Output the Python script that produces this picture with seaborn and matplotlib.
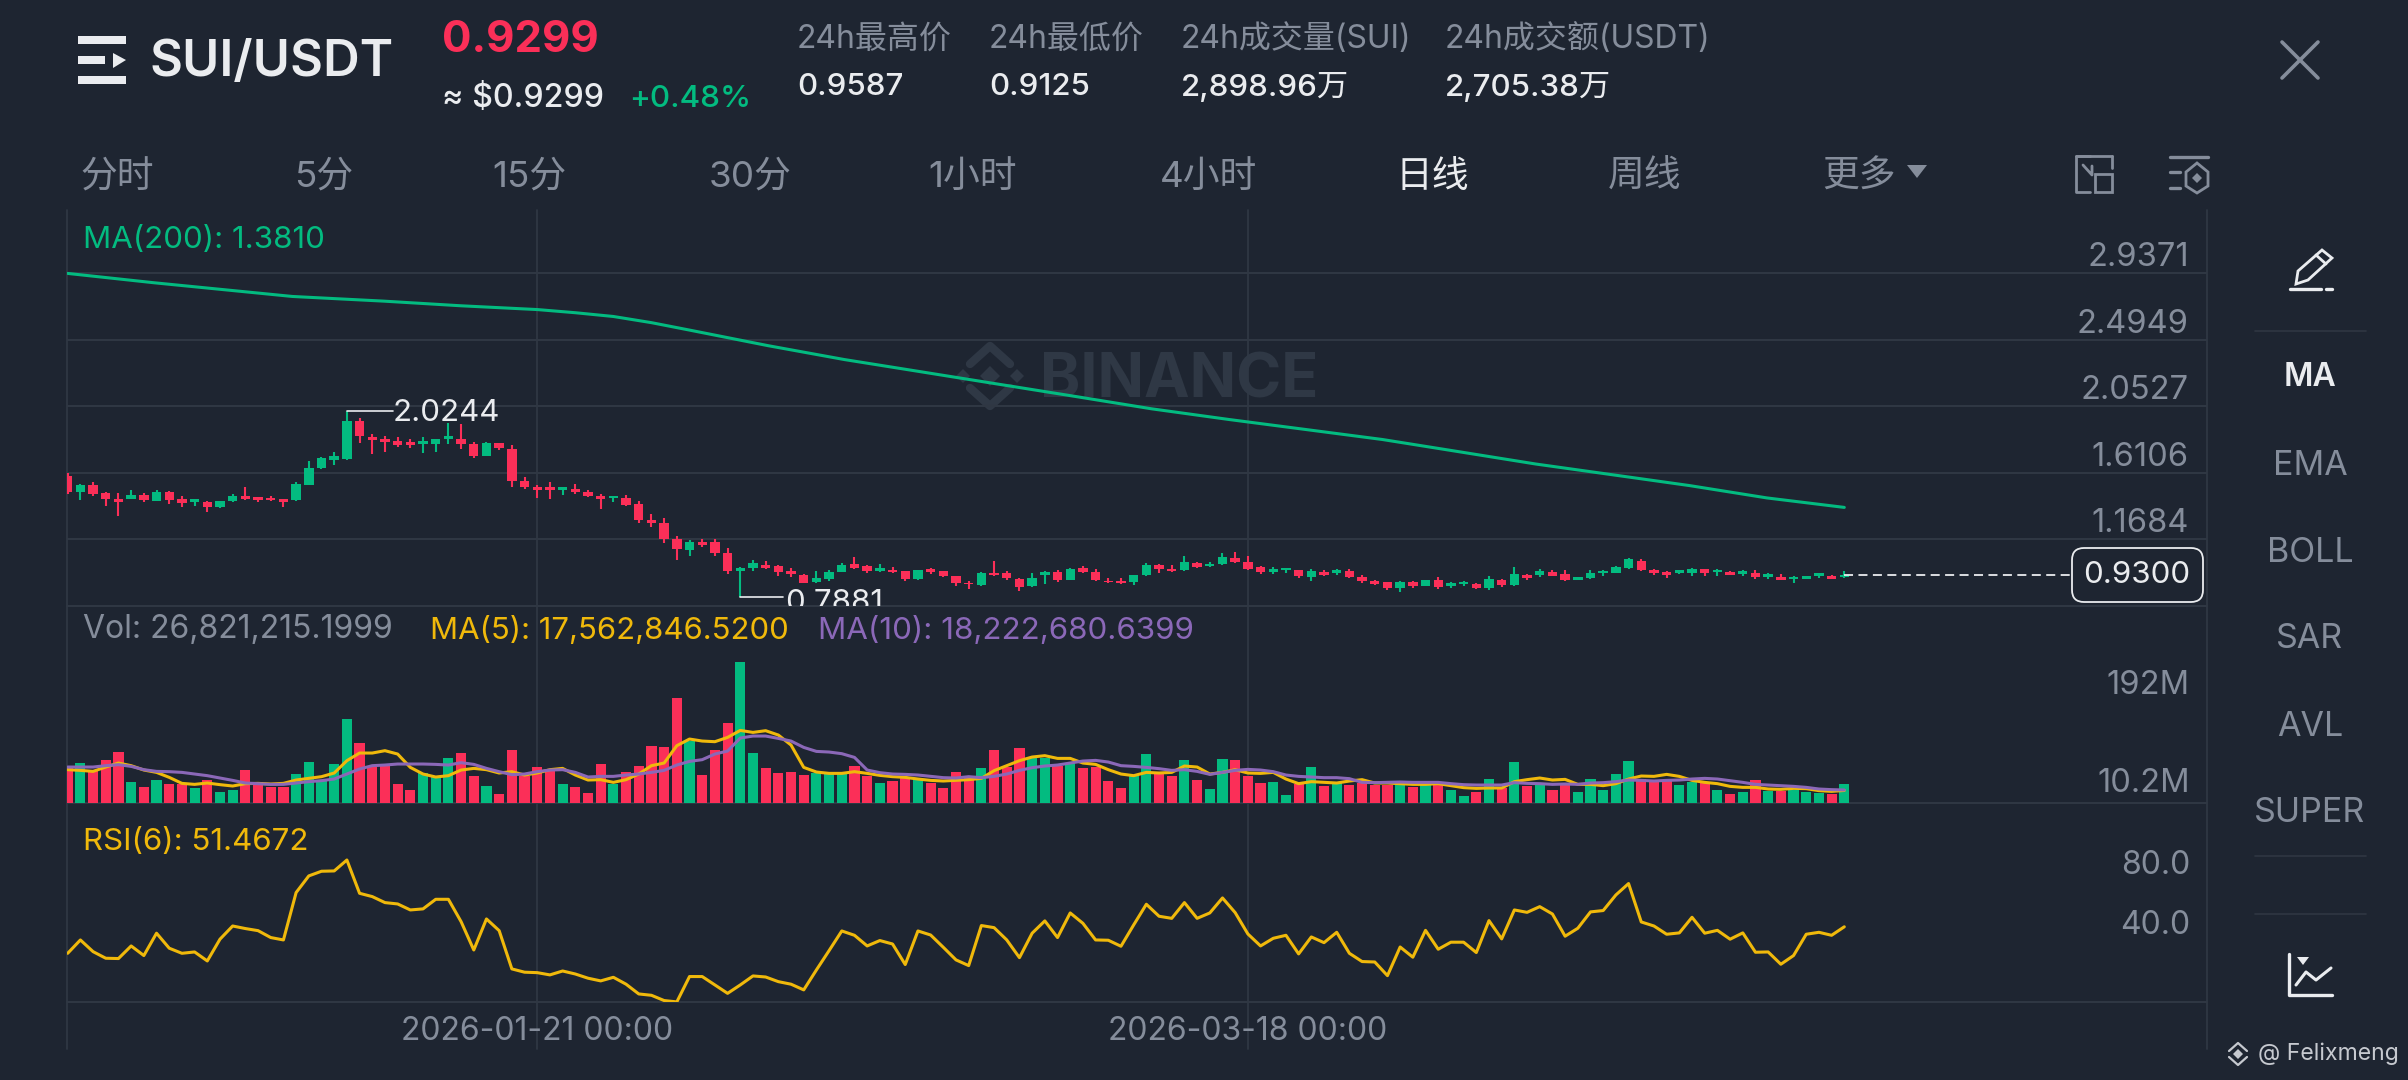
import numpy as np
import pandas as pd
import matplotlib
matplotlib.use('Agg')
import matplotlib.pyplot as plt
from matplotlib.patches import FancyBboxPatch, Polygon, Rectangle
import seaborn as sns

# daily candles
open_ = [1.589, 1.485, 1.529, 1.474, 1.436, 1.436, 1.465, 1.425, 1.485, 1.434,
         1.418, 1.416, 1.385, 1.423, 1.454, 1.447, 1.445, 1.434, 1.427, 1.533,
         1.644, 1.695, 1.703, 1.955, 1.849, 1.838, 1.823, 1.818, 1.801, 1.801,
         1.832, 1.838, 1.803, 1.723, 1.810, 1.772, 1.558, 1.514, 1.514, 1.496,
         1.505, 1.483, 1.456, 1.445, 1.445, 1.403, 1.297, 1.277, 1.171, 1.098,
         1.151, 1.153, 1.078, 0.961, 0.976, 0.998, 0.992, 0.958, 0.932, 0.883,
         0.903, 0.954, 1.005, 0.989, 0.958, 0.965, 0.956, 0.905, 0.969, 0.956,
         0.923, 0.881, 0.868, 0.947, 0.943, 0.908, 0.857, 0.932, 0.954, 0.901,
         0.976, 0.954, 0.892, 0.895, 0.886, 0.932, 0.996, 0.974, 0.967, 1.014,
         0.989, 1.003, 1.047, 1.020, 0.983, 0.952, 0.965, 0.963, 0.917, 0.952,
         0.943, 0.958, 0.921, 0.892, 0.886, 0.844, 0.883, 0.859, 0.899, 0.859,
         0.872, 0.870, 0.844, 0.899, 0.866, 0.932, 0.930, 0.949, 0.941, 0.901,
         0.910, 0.943, 0.947, 0.981, 1.027, 0.965, 0.954, 0.943, 0.945, 0.969,
         0.952, 0.952, 0.941, 0.947, 0.921, 0.921, 0.905, 0.908, 0.927, 0.927,
         0.918]
close = [1.485, 1.529, 1.469, 1.434, 1.418, 1.463, 1.430, 1.485, 1.430, 1.412,
         1.434, 1.381, 1.425, 1.456, 1.434, 1.427, 1.427, 1.416, 1.536, 1.646,
         1.708, 1.721, 1.953, 1.854, 1.827, 1.816, 1.796, 1.794, 1.823, 1.838,
         1.858, 1.801, 1.721, 1.812, 1.774, 1.556, 1.514, 1.496, 1.496, 1.514,
         1.483, 1.456, 1.438, 1.460, 1.399, 1.297, 1.275, 1.169, 1.103, 1.153,
         1.133, 1.080, 0.959, 0.976, 1.014, 0.978, 0.954, 0.936, 0.881, 0.914,
         0.954, 1.000, 0.980, 0.958, 0.980, 0.949, 0.903, 0.965, 0.949, 0.925,
         0.881, 0.870, 0.945, 0.934, 0.914, 0.852, 0.910, 0.952, 0.899, 0.974,
         0.954, 0.899, 0.883, 0.881, 0.932, 1.000, 0.972, 0.956, 1.018, 0.987,
         1.005, 1.051, 1.018, 0.974, 0.949, 0.974, 0.976, 0.928, 0.956, 0.932,
         0.963, 0.917, 0.890, 0.872, 0.844, 0.883, 0.857, 0.899, 0.855, 0.879,
         0.888, 0.848, 0.903, 0.866, 0.936, 0.912, 0.956, 0.928, 0.899, 0.919,
         0.947, 0.961, 0.987, 1.036, 0.965, 0.947, 0.934, 0.963, 0.969, 0.945,
         0.967, 0.934, 0.958, 0.921, 0.939, 0.901, 0.919, 0.925, 0.943, 0.908,
         0.9299]
high = [1.611, 1.536, 1.547, 1.485, 1.474, 1.496, 1.474, 1.496, 1.491, 1.456,
        1.438, 1.423, 1.425, 1.467, 1.514, 1.451, 1.456, 1.438, 1.547, 1.690,
        1.717, 1.750, 2.0244, 1.978, 1.871, 1.856, 1.849, 1.836, 1.849, 1.838,
        1.942, 1.938, 1.814, 1.818, 1.810, 1.796, 1.584, 1.533, 1.547, 1.514,
        1.536, 1.496, 1.469, 1.460, 1.463, 1.423, 1.339, 1.310, 1.191, 1.164,
        1.169, 1.169, 1.109, 0.987, 1.031, 1.022, 1.000, 0.978, 0.936, 0.958,
        0.965, 1.014, 1.054, 0.996, 1.005, 0.987, 0.961, 0.965, 0.978, 0.961,
        0.928, 0.892, 0.949, 1.022, 0.961, 0.912, 0.947, 0.958, 0.965, 0.978,
        0.994, 0.974, 0.912, 0.910, 0.932, 1.012, 1.005, 0.998, 1.058, 1.018,
        1.018, 1.076, 1.083, 1.058, 0.992, 0.987, 0.980, 0.963, 0.972, 0.967,
        0.974, 0.974, 0.932, 0.899, 0.886, 0.892, 0.890, 0.899, 0.917, 0.888,
        0.895, 0.881, 0.923, 0.903, 0.983, 0.936, 0.969, 0.963, 0.963, 0.921,
        0.963, 0.963, 0.994, 1.045, 1.036, 0.969, 0.958, 0.963, 0.976, 0.969,
        0.969, 0.956, 0.963, 0.963, 0.943, 0.936, 0.923, 0.925, 0.947, 0.934,
        0.958]
low = [1.467, 1.430, 1.458, 1.390, 1.326, 1.436, 1.414, 1.425, 1.403, 1.385,
       1.390, 1.352, 1.374, 1.418, 1.430, 1.416, 1.423, 1.385, 1.425, 1.529,
       1.635, 1.662, 1.695, 1.812, 1.739, 1.750, 1.783, 1.776, 1.745, 1.750,
       1.805, 1.768, 1.708, 1.721, 1.759, 1.518, 1.500, 1.445, 1.438, 1.463,
       1.469, 1.451, 1.368, 1.418, 1.392, 1.275, 1.253, 1.142, 1.032, 1.060,
       1.116, 1.060, 0.939, 0.7881, 0.961, 0.972, 0.928, 0.917, 0.877, 0.877,
       0.892, 0.952, 0.969, 0.947, 0.949, 0.943, 0.894, 0.896, 0.938, 0.917,
       0.859, 0.841, 0.857, 0.928, 0.899, 0.828, 0.852, 0.870, 0.886, 0.897,
       0.943, 0.895, 0.879, 0.875, 0.868, 0.928, 0.943, 0.952, 0.961, 0.978,
       0.985, 0.998, 1.009, 0.965, 0.938, 0.938, 0.947, 0.914, 0.890, 0.928,
       0.932, 0.910, 0.881, 0.866, 0.835, 0.821, 0.848, 0.857, 0.841, 0.848,
       0.861, 0.839, 0.835, 0.855, 0.861, 0.899, 0.919, 0.925, 0.895, 0.897,
       0.905, 0.925, 0.943, 0.972, 0.958, 0.932, 0.914, 0.938, 0.925, 0.925,
       0.923, 0.930, 0.928, 0.908, 0.908, 0.897, 0.881, 0.903, 0.912, 0.903,
       0.910]

# volume and its moving averages, in millions
volume = [49.9, 55.5, 45.3, 60.2, 70.9, 29.4, 22.4, 32.2, 26.6, 26.6,
          21.5, 31.7, 15.9, 18.2, 45.7, 28.9, 22.4, 22.9, 40.6, 57.9,
          31.3, 54.6, 117.6, 84.0, 49.9, 52.3, 26.6, 18.7, 42.0, 35.9,
          63.0, 69.5, 38.3, 24.3, 12.1, 74.2, 38.3, 49.9, 45.3, 26.6,
          21.9, 14.0, 55.1, 26.6, 42.9, 51.3, 80.3, 78.4, 147.0, 87.3,
          39.2, 74.2, 112.0, 197.9, 69.5, 49.5, 42.5, 43.4, 39.7, 42.0,
          40.6, 40.6, 51.8, 37.3, 28.5, 30.3, 34.5, 33.6, 28.5, 21.0,
          43.4, 38.3, 49.0, 74.7, 49.9, 77.5, 62.5, 62.5, 52.3, 56.0,
          49.5, 50.4, 30.8, 20.5, 39.2, 68.6, 40.6, 37.8, 60.7, 32.7,
          19.1, 61.6, 60.7, 37.8, 28.5, 29.4, 10.7, 26.6, 50.4, 23.8,
          28.0, 25.7, 28.0, 25.2, 25.7, 26.6, 22.9, 25.2, 28.0, 18.7,
          10.3, 15.4, 34.1, 20.5, 57.4, 24.3, 26.6, 18.7, 25.7, 15.4,
          33.6, 18.7, 40.1, 58.8, 33.6, 29.9, 31.3, 25.2, 28.9, 28.0,
          18.7, 12.6, 15.4, 32.7, 17.3, 17.3, 18.7, 15.9, 13.5, 12.6,
          26.82]
vol_ma5 = [46.7, 45.7, 44.3, 50.4, 56.0, 52.3, 46.2, 42.9, 35.9, 27.5,
           26.1, 28.0, 25.7, 23.8, 27.1, 27.5, 26.6, 27.5, 32.2, 34.5,
           36.9, 42.0, 59.3, 70.0, 70.0, 73.3, 68.6, 49.9, 40.6, 36.4,
           38.3, 46.2, 48.5, 46.7, 42.0, 43.9, 39.2, 42.0, 46.7, 48.5,
           39.2, 32.2, 32.7, 28.9, 32.7, 40.6, 52.3, 56.0, 80.3, 89.6,
           86.8, 85.9, 91.9, 101.7, 98.9, 101.3, 95.2, 81.2, 49.9, 43.4,
           41.5, 41.5, 43.9, 41.5, 38.7, 36.9, 35.9, 33.6, 31.7, 30.8,
           31.7, 32.7, 34.5, 45.3, 52.3, 59.3, 64.4, 66.3, 62.5, 62.5,
           56.0, 54.1, 46.7, 40.6, 38.3, 42.9, 42.0, 42.9, 51.8, 50.4,
           40.6, 42.9, 46.7, 42.0, 41.5, 42.9, 33.6, 27.1, 29.9, 28.9,
           28.0, 30.8, 32.7, 28.0, 28.0, 27.1, 26.1, 26.1, 27.1, 24.3,
           21.5, 20.5, 21.0, 21.0, 29.9, 32.7, 35.0, 32.2, 33.1, 26.1,
           26.1, 24.3, 27.1, 33.6, 37.8, 37.3, 40.1, 37.3, 31.7, 28.9,
           27.1, 23.3, 21.9, 21.9, 19.6, 19.1, 20.5, 20.1, 17.3, 16.3,
           17.56]
vol_ma10 = [50.4, 50.4, 50.4, 52.3, 53.7, 51.3, 46.7, 44.3, 43.9, 42.9,
            40.6, 38.3, 35.0, 31.7, 28.0, 27.1, 26.1, 26.1, 28.0, 29.9,
            31.3, 33.6, 40.6, 47.6, 52.3, 53.2, 54.6, 54.6, 54.6, 54.1,
            53.2, 56.5, 54.1, 48.5, 43.9, 39.7, 40.6, 43.9, 46.2, 46.7,
            42.9, 36.4, 37.3, 37.3, 39.2, 40.6, 42.9, 45.7, 53.2, 58.3,
            60.7, 68.6, 72.8, 91.0, 93.8, 93.8, 90.5, 86.8, 77.9, 72.3,
            71.4, 69.1, 63.9, 46.2, 42.5, 40.6, 40.1, 39.2, 37.3, 35.5,
            35.0, 36.9, 35.5, 37.3, 40.6, 45.7, 49.5, 51.8, 53.2, 56.0,
            58.8, 59.7, 57.4, 52.3, 51.3, 49.9, 48.1, 45.7, 46.7, 44.3,
            40.1, 42.9, 45.7, 47.1, 46.2, 43.9, 39.2, 37.3, 36.4, 35.5,
            35.5, 34.1, 28.9, 28.5, 28.9, 29.4, 28.9, 28.9, 28.9, 27.1,
            25.7, 25.2, 25.2, 25.2, 28.5, 27.5, 27.1, 26.1, 26.6, 26.1,
            28.0, 28.5, 29.9, 32.2, 31.7, 30.8, 31.7, 32.2, 33.6, 34.5,
            33.6, 31.3, 28.9, 26.1, 25.2, 24.3, 23.3, 21.9, 19.6, 18.7,
            18.22]

rsi6 = [33.8, 42.7, 34.9, 30.5, 30.3, 38.7, 32.3, 47.2, 37.2, 33.8,
        34.7, 28.7, 43.2, 52.0, 50.3, 48.9, 44.3, 42.7, 74.3, 85.4,
        88.5, 88.7, 96.0, 73.8, 71.6, 67.6, 66.7, 62.7, 63.4, 69.8,
        69.8, 54.9, 36.0, 56.7, 48.9, 23.4, 21.2, 20.9, 19.4, 22.0,
        20.0, 17.2, 15.4, 17.8, 13.2, 6.7, 5.8, 2.3, 1.4, 18.3,
        18.3, 12.7, 7.1, 12.7, 18.7, 18.0, 14.9, 13.2, 9.4, 22.7,
        35.6, 48.7, 45.8, 38.7, 42.3, 40.0, 26.3, 48.7, 46.0, 37.8,
        29.4, 25.6, 52.3, 50.9, 42.7, 30.9, 47.2, 55.4, 44.3, 60.7,
        53.8, 42.7, 42.5, 38.5, 52.7, 66.5, 58.5, 57.1, 67.6, 57.1,
        60.7, 70.7, 60.9, 46.7, 38.7, 43.8, 45.8, 33.4, 44.7, 40.9,
        47.8, 33.8, 28.3, 28.0, 18.9, 38.0, 31.2, 49.1, 36.5, 41.2,
        41.2, 34.3, 55.6, 43.4, 62.7, 61.1, 64.9, 60.0, 45.2, 50.5,
        61.4, 62.3, 72.7, 80.3, 54.7, 52.0, 46.5, 47.4, 57.8, 47.2,
        49.1, 43.2, 47.4, 34.5, 34.7, 26.5, 32.3, 46.5, 47.8, 45.8,
        51.47]

# MA(200) is a smooth curve, so it was only read every few candles
ma200_idx = [0, 6.8, 17.7, 24.9, 31, 37, 40, 43, 46, 49.1, 55.2, 61.2, 67.3, 73.3,
             79.4, 85.4, 91.5, 97.6, 103.6, 109.7, 115.7, 121.8, 127.8, 133.9, 140]
ma200 = [2.935, 2.873, 2.782, 2.751, 2.720, 2.695, 2.674, 2.649, 2.608, 2.557, 2.455, 2.363,
         2.281, 2.200, 2.118, 2.036, 1.965, 1.898, 1.832, 1.750, 1.669, 1.597,
         1.526, 1.444, 1.3810]

price_ticks = [2.9371, 2.4949, 2.0527, 1.6106, 1.1684, 0.7262]
vol_ticks = [192, 10.2]
vol_tick_labels = ['192M', '10.2M']
rsi_ticks = [80, 40]
date_idx = [37, 93]
date_labels = ['2026-01-21 00:00', '2026-03-18 00:00']
tabs = ['分时', '5分', '15分', '30分', '1小时', '4小时', '日线', '周线', '更多']
stat_names = ['24h最高价', '24h最低价', '24h成交量(SUI)', '24h成交额(USDT)']
stat_values = ['0.9587', '0.9125', '2,898.96万', '2,705.38万']
side_items = ['MA', 'EMA', 'BOLL', 'SAR', 'AVL', 'SUPER']

BG = '#1e2531'
GRID = '#2f3743'
GREEN = '#03bb80'
RED = '#fb2f58'
GRAY = '#858d9b'
WHITE = '#eaecef'
YELLOW = '#f0b90b'
PURPLE = '#8b68b8'

W, H = 2408, 1080
X0, DX = 67.7, 12.69   # pixel of first candle, pixels per candle
LEFT, RIGHT = 67, 2207

sns.set_theme(style='dark', rc={'figure.facecolor': BG, 'axes.facecolor': 'none'})
plt.rcParams['font.family'] = ['Inter', 'Noto Sans CJK SC', 'DejaVu Sans']

fig = plt.figure(figsize=(W / 100, H / 100), dpi=100)

# full-size pixel axes for all the app chrome
ui = fig.add_axes([0, 0, 1, 1], zorder=0)
ui.set_xlim(0, W)
ui.set_ylim(H, 0)
ui.axis('off')


def panel(top, bottom, ylim, ticks):
    ax = fig.add_axes([LEFT / W, 1 - bottom / H, (RIGHT - LEFT) / W, (bottom - top) / H], zorder=1)
    ax.set_xlim((LEFT - X0) / DX, (RIGHT - X0) / DX)
    ax.set_ylim(*ylim)
    ax.set_yticks(ticks)
    ax.set_xticks([])
    ax.tick_params(length=0, labelleft=False, labelbottom=False)
    for s in ax.spines.values():
        s.set_visible(False)
    return ax


def txt(x, y, s, size=20, color=GRAY, ha='left', **kw):
    ui.text(x, y + 2, s, fontsize=size, color=color, ha=ha, va='center', **kw)


idx = np.arange(len(close))
is_up = np.array(close) >= np.array(open_)
colors = np.where(is_up, GREEN, RED)

# price panel
ax1 = panel(210, 606, (0.7262, 3.3562), price_ticks[:-1])
ax1.grid(axis='y', color=GRID, lw=1.5)
ax1.vlines(idx, low, high, color=colors, lw=1.5)
ax1.bar(idx, np.abs(np.array(close) - np.array(open_)), bottom=np.minimum(open_, close),
        width=0.74, color=colors, linewidth=0)
sns.lineplot(x=ma200_idx, y=ma200, color=GREEN, linewidth=2.2, ax=ax1)
ax1.set_xlim((LEFT - X0) / DX, (RIGHT - X0) / DX)
ax1.set_ylim(0.7262, 3.3562)

for v in price_ticks[:-1]:
    ax1.annotate(f'{v:.4f}', (0.9915, v), xycoords=ax1.get_yaxis_transform(), xytext=(0, 0),
                 textcoords='offset points', ha='right', va='bottom', fontsize=23.5, color=GRAY)

# high / low markers
ax1.plot([22, 22, 25.6], [high[22], 2.0244, 2.0244], color=WHITE, lw=1.2)
ax1.text(25.6, 2.007, '2.0244', color=WHITE, fontsize=22.5, va='center')
ax1.plot([53, 53, 56.4], [low[53], 0.7881, 0.7881], color=WHITE, lw=1.2)
ax1.text(56.5, 0.748, '0.7881', color=WHITE, fontsize=22.5, va='center', clip_on=True)

# last price line
ax1.plot([140, 158], [0.93, 0.93], color=WHITE, lw=1.3, ls=(0, (5, 3)))

# volume panel
ax2 = panel(606, 803, (0, 276), [])
vol_df = pd.DataFrame({'idx': idx, 'volume': volume, 'side': np.where(is_up, 'up', 'down')})
sns.barplot(data=vol_df, x='idx', y='volume', hue='side', palette={'up': GREEN, 'down': RED},
            native_scale=True, dodge=False, width=0.8, saturation=1, legend=False,
            linewidth=0, ax=ax2)
sns.lineplot(x=idx, y=vol_ma5, color=YELLOW, linewidth=2.2, ax=ax2)
sns.lineplot(x=idx, y=vol_ma10, color=PURPLE, linewidth=2.2, ax=ax2)
ax2.set_xlim((LEFT - X0) / DX, (RIGHT - X0) / DX)
ax2.set_ylim(0, 276)
ax2.set_xlabel('')
ax2.set_ylabel('')
ax2.set_xticks([])

# RSI panel
ax3 = panel(803, 1002, (1.33, 134), [])
sns.lineplot(x=idx, y=rsi6, color=YELLOW, linewidth=2.2, ax=ax3)
ax3.set_xlim((LEFT - X0) / DX, (RIGHT - X0) / DX)
ax3.set_ylim(1.33, 134)
ax3.set_xlabel('')
ax3.set_ylabel('')
ax3.set_xticks([])

# frame lines
for x in [LEFT, RIGHT] + [X0 + DX * i for i in date_idx]:
    ui.plot([x, x], [210, 1049], color=GRID, lw=1.3)
for y in [606, 803, 1002]:
    ui.plot([LEFT, RIGHT], [y, y], color=GRID, lw=1.5)

# tick texts for the lower panels
for y, s in zip([683, 781], vol_tick_labels):
    txt(2190, y, s, size=23.5, ha='right')
for y, v in zip([863, 924], rsi_ticks):
    txt(2190, y, f'{v:.1f}', size=23, ha='right')
for i, s in zip(date_idx, date_labels):
    txt(X0 + DX * i, 1029, s, size=23, ha='center')

# indicator legends
txt(83, 238, 'MA(200): 1.3810', size=22.5, color=GREEN)
txt(83, 628, 'Vol: 26,821,215.1999', size=23, color=GRAY)
txt(430, 628, 'MA(5): 17,562,846.5200', size=22.4, color=YELLOW)
txt(818, 628, 'MA(10): 18,222,680.6399', size=22.6, color=PURPLE)
txt(83, 840, 'RSI(6): 51.4672', size=22.5, color=YELLOW)

# last price box
ui.add_patch(FancyBboxPatch((2078, 554), 119, 42, boxstyle='round,pad=6,rounding_size=12',
                            fc=BG, ec=WHITE, lw=1.3))
txt(2190, 573, '0.9300', size=22.5, color=WHITE, ha='right')

# header
for y in [36, 56, 76]:
    ui.add_patch(Rectangle((78, y), 48 if y != 56 else 27, 8, color=WHITE, lw=0))
ui.add_patch(Polygon([(113, 53), (126, 60), (113, 68)], color=WHITE, lw=0))
txt(150, 60, 'SUI/USDT', size=36.5, color=WHITE, fontweight='semibold')
txt(442, 38, '0.9299', size=31.5, color=RED, fontweight='bold')
txt(442, 97, '≈ $0.9299', size=23.2, color=WHITE, fontweight='medium')
txt(629, 97, '+0.48%', size=22.6, color=GREEN, fontweight='medium')
for x, name, val in zip([797, 989, 1181, 1445], stat_names, stat_values):
    txt(x, 37, name, size=23)
    txt(x, 85, val, size=22.5, color=WHITE, fontweight='medium')
for x, s in zip([80, 294, 492, 709, 928, 1160, 1395, 1608, 1822], tabs):
    txt(x, 175, s, size=26.5, color=WHITE if s == '日线' else GRAY)
ui.add_patch(Polygon([(1907, 165), (1927, 165), (1917, 178)], color=GRAY, lw=0))

# close button
ui.plot([2282, 2318], [42, 78], color=GRAY, lw=2.6)
ui.plot([2282, 2318], [78, 42], color=GRAY, lw=2.6)

# toolbar icons
ui.plot([2090, 2076, 2076, 2090], [156, 156, 192, 192], color=GRAY, lw=2)
ui.plot([2076, 2112], [156, 156], color=GRAY, lw=2)
ui.plot([2112, 2112], [156, 168], color=GRAY, lw=2)
ui.add_patch(Rectangle((2095, 174), 17, 18, fc='none', ec=GRAY, lw=2))
ui.plot([2083, 2092, 2092], [165, 175, 166], color=GRAY, lw=2)
ui.plot([2170, 2208], [157, 157], color=GRAY, lw=2.4)
ui.plot([2170, 2180], [172, 172], color=GRAY, lw=2.4)
ui.plot([2170, 2180], [188, 188], color=GRAY, lw=2.4)
ui.add_patch(Polygon([(2197, 163), (2208, 172), (2208, 186), (2197, 193), (2186, 186), (2186, 172)],
                     fc='none', ec=GRAY, lw=2))
ui.add_patch(Polygon([(2197, 173), (2202, 178), (2197, 183), (2192, 178)], color=GRAY, lw=0))

# side panel
ui.add_patch(Polygon([(2296, 284), (2298, 271), (2322, 250), (2332, 258), (2308, 280)],
                     fc='none', ec=WHITE, lw=2))
ui.plot([2316, 2326], [255, 264], color=WHITE, lw=2)
ui.plot([2290, 2321], [289, 289], color=WHITE, lw=2.4)
ui.plot([2326, 2332], [289, 289], color=WHITE, lw=2.4)
for y in [331, 856, 914]:
    ui.plot([2255, 2366], [y, y], color=GRID, lw=1.2)
for y, s in zip([376, 464, 551, 637, 725, 811], side_items):
    txt(2310, y, s, size=23 if s == 'MA' else 24.5, color=WHITE if s == 'MA' else GRAY, ha='center',
        fontweight='semibold' if s == 'MA' else 'normal')
ui.plot([2289, 2289, 2332], [954, 995, 995], color=WHITE, lw=2.4)
ui.plot([2296, 2306, 2316, 2331], [985, 972, 980, 968], color=WHITE, lw=2.2)
ui.add_patch(Polygon([(2297, 957), (2309, 957), (2303, 965)], color=WHITE, lw=0))

# watermark
wm = '#2f3845'
cx, cy = 990, 376
ui.add_patch(Polygon([(cx, cy - 10), (cx + 10, cy), (cx, cy + 10), (cx - 10, cy)], color=wm, lw=0))
ui.plot([cx - 20, cx, cx + 20], [cy - 12, cy - 30, cy - 12], color=wm, lw=6)
ui.plot([cx - 20, cx, cx + 20], [cy + 12, cy + 30, cy + 12], color=wm, lw=6)
for dx in [-27, 27]:
    ui.add_patch(Polygon([(cx + dx, cy - 7), (cx + dx + 7, cy), (cx + dx, cy + 7), (cx + dx - 7, cy)],
                         color=wm, lw=0))
txt(1040, 380, 'BINANCE', size=44, color=wm, fontweight='bold')

# credit
ui.add_patch(Polygon([(2238, 1049), (2243, 1054), (2238, 1059), (2233, 1054)], color='#c6c9cf', lw=0))
ui.plot([2229, 2238, 2247], [1051, 1043, 1051], color='#c6c9cf', lw=1.6)
ui.plot([2229, 2238, 2247], [1057, 1065, 1057], color='#c6c9cf', lw=1.6)
txt(2258, 1052, '@ Felixmeng', size=16.6, color='#c6c9cf')

fig.savefig('out.png', dpi=100, facecolor=BG)
